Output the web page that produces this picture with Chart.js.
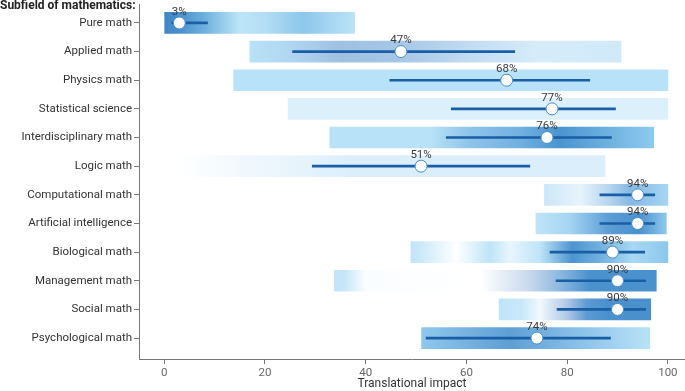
<!DOCTYPE html>
<html>
<head>
<meta charset="utf-8">
<script src="https://cdn.jsdelivr.net/npm/chart.js@4/dist/chart.umd.min.js"></script>
<style>
  html, body { margin: 0; padding: 0; background: #fff; }
  #wrap { width: 685px; height: 391px; }
</style>
</head>
<body>
<div id="wrap"><canvas id="c" width="685" height="391"></canvas></div>
<script>
// ---- Data ----
const categories = [
  'Pure math', 'Applied math', 'Physics math', 'Statistical science',
  'Interdisciplinary math', 'Logic math', 'Computational math',
  'Artificial intelligence', 'Biological math', 'Management math',
  'Social math', 'Psychological math'
];
const rangeStart = [0, 17, 13.8, 24.6, 32.9, 2.2, 75.5, 73.8, 49, 33.8, 66.5, 51.1];
const rangeEnd   = [37.8, 90.7, 100, 100, 97.2, 87.5, 100, 99.7, 100, 97.7, 96.6, 96.4];
const ciLow      = [1.5, 25.5, 44.8, 57, 56, 29.4, 86.5, 86.5, 76.6, 77.8, 78, 52];
const ciHigh     = [8.6, 69.6, 84.5, 89.6, 88.8, 72.6, 97.4, 97.4, 95.4, 95.6, 95.6, 88.6];
const impact     = [3, 47, 68, 77, 76, 51, 94, 94, 89, 90, 90, 74];
const xTicks     = [0, 20, 40, 60, 80, 100];

// ---- Styles: gradient stops per bar (value on x axis, colour) ----
const barGradients = [
  [[0,'#3d86c7'],[3,'#4a90cd'],[8,'#6eb0de'],[15,'#bde5f8'],[20,'#b4def5'],[27.6,'#8cc6ea'],[33,'#a6d6f2'],[37.8,'#bae2f7']],
  [[17,'#b8e2f7'],[25,'#b0d6f1'],[35,'#a0c0e2'],[47,'#a6c7e6'],[60.7,'#c2dcf2'],[74.6,'#d6ecfa'],[90.7,'#cfe9f9']],
  [[13.8,'#b7e2f7'],[100,'#b7e2f7']],
  [[24.6,'#dcf0fb'],[100,'#dcf0fb']],
  [[32.9,'#b8e2f7'],[52.8,'#b8e2f7'],[60.7,'#8ec4ea'],[70.6,'#72b0df'],[78.6,'#4a94cf'],[87,'#6aaede'],[97.2,'#8ecaee']],
  [[2.2,'#ffffff'],[19,'#eef7fd'],[37,'#dbeffb'],[87.5,'#daeefb']],
  [[75.5,'#cce6f8'],[82.5,'#e8f4fc'],[88.5,'#b4d4ee'],[92.5,'#86b8e2'],[100,'#a6d6f3']],
  [[73.8,'#bfe4f8'],[80.5,'#a6d4f2'],[88.5,'#5a9cd4'],[94.4,'#4a92ce'],[99.7,'#8ec8ec']],
  [[49,'#bfe4f8'],[52.8,'#d8effb'],[58,'#ffffff'],[64.7,'#bde4f8'],[68.6,'#e8f5fc'],[74.6,'#bfe4f8'],[81,'#4d95d0'],[86.5,'#70b0e0'],[93,'#a8d8f4'],[100,'#8cc8ec']],
  [[33.8,'#c0e4f8'],[36,'#c8e8f9'],[40,'#fafdff'],[62.7,'#ffffff'],[72.6,'#c8d8ec'],[78.6,'#8cb8e0'],[84.5,'#4a92ce'],[97.7,'#4a92ce']],
  [[66.5,'#bfe4f8'],[71,'#c8e8f9'],[74.6,'#f0f8fd'],[80,'#b0c8e6'],[83.9,'#5d9bd3'],[88,'#4a90cd'],[96.6,'#4a90cd']],
  [[51.1,'#8ec8ec'],[58.7,'#7ab6e2'],[68.6,'#5e9fd5'],[78.6,'#7db8e3'],[88.5,'#9fd0f0'],[96.4,'#b8e2f7']]
];

const FONT = 'Roboto, "Liberation Sans", sans-serif';

function barGradient(ctx) {
  const chart = ctx.chart;
  if (!chart.chartArea || ctx.dataIndex === undefined) return '#b7e2f7';
  const i = ctx.dataIndex;
  const xs = chart.scales.x;
  const s = rangeStart[i], e = rangeEnd[i];
  const p0 = xs.getPixelForValue(s), p1 = xs.getPixelForValue(e);
  const g = chart.ctx.createLinearGradient(p0, 0, p1, 0);
  barGradients[i].forEach(([v, col]) => {
    const f = Math.min(1, Math.max(0, (v - s) / (e - s)));
    g.addColorStop(f, col);
  });
  return g;
}

const labelPlugin = {
  id: 'labels',
  afterDatasetsDraw(chart) {
    const c = chart.ctx;
    const meta = chart.getDatasetMeta(2);
    c.save();
    c.font = '11.5px ' + FONT;
    c.fillStyle = '#3a3a3a';
    c.textAlign = 'center';
    c.textBaseline = 'middle';
    meta.data.forEach((el, i) => {
      c.fillText(impact[i] + '%', el.x, el.y - 11);
    });
    c.restore();
  },
  afterDraw(chart) {
    const c = chart.ctx;
    c.save();
    c.font = 'bold 12px ' + FONT;
    c.fillStyle = '#222';
    c.textAlign = 'left';
    c.textBaseline = 'middle';
    c.fillText('Subfield of mathematics:', 0, 6);
    c.restore();
  }
};

new Chart(document.getElementById('c'), {
  type: 'bar',
  data: {
    datasets: [
      {
        type: 'bar',
        indexAxis: 'y',
        data: categories.map((c, i) => ({ y: i, x: [rangeStart[i], rangeEnd[i]] })),
        backgroundColor: barGradient,
        borderWidth: 0,
        barThickness: 21,
        grouped: false,
        order: 2
      },
      {
        type: 'bar',
        indexAxis: 'y',
        data: categories.map((c, i) => ({ y: i, x: [ciLow[i], ciHigh[i]] })),
        backgroundColor: '#1a5ea6',
        borderWidth: 0,
        barThickness: 2,
        grouped: false,
        order: 1
      },
      {
        type: 'scatter',
        data: categories.map((c, i) => ({ x: impact[i], y: i })),
        pointRadius: 6,
        pointHoverRadius: 6,
        backgroundColor: '#ffffff',
        borderColor: '#4a8ecd',
        borderWidth: 1,
        order: 0
      }
    ]
  },
  options: {
    responsive: false,
    animation: false,
    devicePixelRatio: 1,
    layout: { autoPadding: false, padding: { top: 4, right: 0, left: 0, bottom: 0 } },
    plugins: { legend: { display: false }, tooltip: { enabled: false } },
    scales: {
      x: {
        type: 'linear',
        offset: false,
        min: -5,
        max: 103.4,
        afterBuildTicks: (axis) => { axis.ticks = xTicks.map(v => ({ value: v })); },
        afterFit: (axis) => { axis.height = 32; axis.paddingLeft = 0; axis.paddingRight = 0; },
        grid: { offset: false, drawOnChartArea: false, drawTicks: true, tickLength: 5, color: '#777' },
        border: { display: true, color: '#777', width: 1 },
        ticks: { color: '#666', font: { family: FONT, size: 11.5 }, padding: 2, maxRotation: 0 },
        title: { display: true, text: 'Translational impact', color: '#333', font: { family: FONT, size: 12 }, padding: { top: 5, bottom: 0 } }
      },
      y: {
        type: 'linear',
        offset: false,
        reverse: true,
        min: -0.66,
        max: 11.73,
        afterBuildTicks: (axis) => { axis.ticks = categories.map((c, i) => ({ value: i })); },
        afterFit: (axis) => { axis.width = 139; axis.paddingTop = 0; axis.paddingBottom = 0; },
        grid: { offset: false, drawOnChartArea: false, drawTicks: true, tickLength: 5, color: '#777' },
        border: { display: true, color: '#777', width: 1 },
        ticks: { color: '#333', font: { family: FONT, size: 11.5 }, padding: 2, autoSkip: false,
                 callback: (v) => categories[v] }
      }
    }
  },
  plugins: [labelPlugin]
});
</script>
</body>
</html>
